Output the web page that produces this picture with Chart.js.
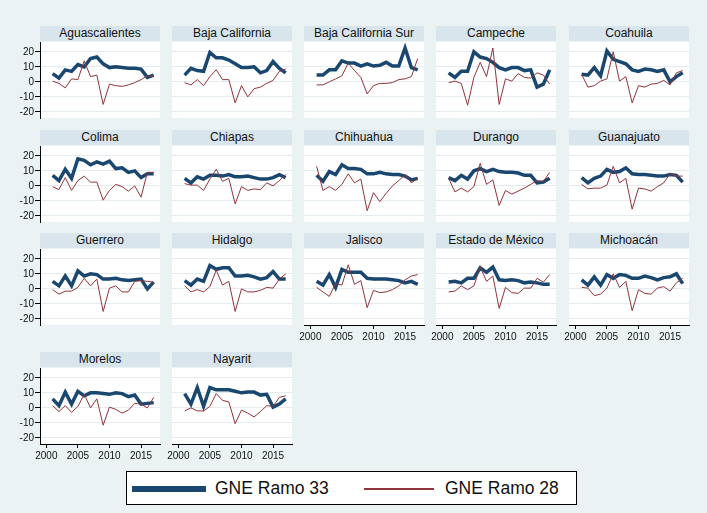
<!doctype html>
<html lang="es">
<head>
<meta charset="utf-8">
<title>GNE Ramo 33 / Ramo 28</title>
<script src="https://cdn.jsdelivr.net/npm/chart.js@4.4.1/dist/chart.umd.min.js"></script>
<style>
  html,body{margin:0;padding:0;background:#eaf2f3}
  #wrap{position:relative;width:707px;height:513px;overflow:hidden;font-family:"Liberation Sans",Arial,sans-serif}
  .hd{position:absolute;width:120px;height:15px;line-height:15px;background:#d8e5ec;color:#111;font-size:12px;text-align:center;white-space:nowrap}
  .cv{position:absolute}
  .legend{position:absolute;left:126px;top:471px;width:449px;height:32px;background:#fff;border:1px solid #000}
  .sw{position:absolute}
  .lt{position:absolute;top:5px;font-size:17.5px;line-height:22px;color:#111}
</style>
</head>
<body>
<div id="wrap">
  <div class="legend">
    <div class="sw" style="left:5px;top:14px;width:74px;height:6px;background:#1a476f"></div>
    <div class="lt" style="left:88px">GNE Ramo 33</div>
    <div class="sw" style="left:237px;top:16px;width:70px;height:1.5px;background:#90353b"></div>
    <div class="lt" style="left:318px">GNE Ramo 28</div>
  </div>
</div>
<script>
const states = ['Aguascalientes','Baja California','Baja California Sur','Campeche','Coahuila',
  'Colima','Chiapas','Chihuahua','Durango','Guanajuato',
  'Guerrero','Hidalgo','Jalisco','Estado de México','Michoacán',
  'Morelos','Nayarit'];
const years = [2001,2002,2003,2004,2005,2006,2007,2008,2009,2010,2011,2012,2013,2014,2015,2016,2017];
const xTicks = [2000,2005,2010,2015];
const yTicks = [-20,-10,0,10,20];

// GNE Ramo 33 (thick navy)
const ramo33 = [
  [5.5,2.5,8,7,11.5,10,15.5,16.5,12,9.5,10,9.5,9,9,8.5,3,4.5],
  [4.5,9,7.5,7,19.5,16,16,14.5,12,9.5,9.5,10,6,7.5,13.5,9,6],
  [4.5,4.5,8,8,14,12.5,12.5,10.5,12,10.5,11,13,10.5,10.5,22.5,9.5,8],
  [6,3,7,7,20,16.5,15.5,13,9.5,8,9.5,9.5,7.5,8,-3.5,-1.5,8],
  [5,4.5,9.5,4,20.5,15,13.5,12,8,7,8.5,8,7,8,0,3.5,6],
  [7,3.5,11,5,18,17,14,16,14.5,16.5,11.5,12,9,10,5.5,8,8],
  [5,2,6,4.5,7,7,6.5,7.5,6,6,6.5,5.5,4.5,4.5,5.5,7.5,5.5],
  [7,3,9.5,7.5,14,11.5,11.5,11,8,8,9,8,7.5,7.5,6.5,4,5],
  [5.5,3.5,7,4.5,10,11.5,9.5,11,9.5,9,9,8.5,7,7,2,2.5,5],
  [5.5,2,5,6.5,11,9,9.5,12,8,7.5,7.5,7,6.5,6.5,7.5,7,2.5],
  [5,2,8.5,2,12,8.5,10,9.5,6.5,6.5,7,6,5.5,6,6.5,0,4.5],
  [5.5,2.5,6.5,5,15.5,13,14,14,8.5,8.5,9,8,6.5,7.5,11.5,6.5,6.5],
  [5,2.5,9.5,1,13,11,11,11,7,6.5,6.5,6.5,6,5.5,4,5,3],
  [4.5,5,4,7,7,14,11,14.5,6,5.5,6,5.5,4,4.5,4,3,3],
  [6,2.5,8,2.5,9.5,7,9.5,9,7,7,8.5,7.5,6,7.5,8,10,3.5],
  [6,1.5,10.5,2.5,11,8,10,10,9.5,9,10,9.5,7.5,8.5,2.5,3,3.5],
  [9.5,2.5,13.5,1,13.5,12,12,12,11,10,10.5,10.5,8.5,9,0.5,2.5,6]
];

// GNE Ramo 28 (thin maroon)
const ramo28 = [
  [0.5,-1,-4,2,1.5,14,3.5,4.5,-15,-1.5,-2.5,-3,-2,-0.5,1.5,4,3.5],
  [-0.5,-2,1.5,-2.5,3.5,8,1.5,1.5,-14,-2.5,-10,-4.5,-3.5,-1,1,7,8.5],
  [-2,-2,0,2,4,12.5,7.5,3,-8,-2.5,-1,-1,-0.5,1.5,2,3.5,15.5],
  [-0.5,0.5,-1,-15.5,3,13,3.5,22.5,-15,2,0.5,5.5,3,2.5,6,4.5,-1.5],
  [5,-3.5,-2.5,0.5,2,20,0.5,3.5,-14,-2.5,-3.5,-1.5,-1,1,-2,6,7.5],
  [-0.5,-2.5,5.5,-3,3.5,6.5,2.5,2.5,-9.5,-3,1,-0.5,-3.5,0,-7.5,9,9],
  [1.5,0.5,0.5,-3,4.5,11,3,5,-12,-0.5,-3,-2,-2.5,2,0,3.5,7.5],
  [13,-3,-0.5,-3,1,8,2,4.5,-16.5,-4.5,-10.5,-5,0,3.5,7.5,2,5],
  [5,-4,-1.5,-4,-0.5,15,1,4,-13,-3,-5.5,-3.5,-1.5,1,3.5,3,9],
  [1,-2,-1.5,-1.5,0.5,13,2,5,-15.5,-1.5,-2,-3.5,-0.5,2,8,6.5,6.5],
  [-0.5,-3.5,-1.5,-1.5,1,7,2,6.5,-15,0.5,2,-2,-2,5,5.5,5,4.5],
  [2,-2,-0.5,-2,1.5,12.5,2.5,5,-15,0,-2,-2,-1,1,0.5,6.5,10],
  [1,-2,-5,3.5,2.5,16,3,5.5,-12.5,-1,-2.5,-2,-0.5,2,6,8.5,9.5],
  [-2,-1.5,2,-0.5,2,14.5,5,8.5,-13,1,-2.5,-3,0.5,0.5,7,4.5,9.5],
  [1,0.5,-4.5,-3.5,0.5,10,1,5,-14.5,-0.5,-3,-3.5,0.5,1.5,-1.5,4,7],
  [1.5,-2.5,1.5,-3,1,9,0,6,-11.5,0.5,-1,-3.5,-1.5,3,2.5,0,7],
  [-2,0,-2,-2,1,9.5,5,4,-10.5,-1.5,-3.5,-6,-2.5,1.5,1,7,8]
];

const colX = [40, 172, 304, 436, 569];
const rowTop = [26, 130, 233, 352];
const HEAD_H = 16, PLOT_H = 76, AXIS_W = 40, AXIS_H = 20, PAD_R = 12, PAD_T = 8;
const NAVY = '#1a476f', MAROON = '#90353b';
const tickFont = { family: '"Liberation Sans", Arial, sans-serif', size: 10 };

// white plot region like Stata's plotregion
const plotBg = {
  id: 'plotBg',
  beforeDraw(chart) {
    const a = chart.chartArea, c = chart.ctx;
    c.save(); c.fillStyle = '#fff';
    c.fillRect(a.left, a.top, a.right - a.left, a.bottom - a.top);
    c.restore();
  }
};

const wrap = document.getElementById('wrap');

states.forEach((name, i) => {
  const row = Math.floor(i / 5), col = i % 5;
  const showY = col === 0;
  const showX = i >= 12; // last panel in each column

  const hd = document.createElement('div');
  hd.className = 'hd';
  hd.style.left = colX[col] + 'px';
  hd.style.top = rowTop[row] + 'px';
  hd.textContent = name;
  wrap.appendChild(hd);

  const cv = document.createElement('canvas');
  cv.className = 'cv';
  const w = AXIS_W + 120 + PAD_R, h = PAD_T + PLOT_H + AXIS_H;
  cv.width = w; cv.height = h;
  cv.style.left = (colX[col] - AXIS_W) + 'px';
  cv.style.top = (rowTop[row] + HEAD_H - PAD_T) + 'px';
  cv.style.width = w + 'px'; cv.style.height = h + 'px';
  wrap.appendChild(cv);

  new Chart(cv.getContext('2d'), {
    type: 'line',
    data: {
      datasets: [
        { label: 'GNE Ramo 28', data: years.map((yr, k) => ({ x: yr, y: ramo28[i][k] })),
          borderColor: MAROON, borderWidth: 1, pointRadius: 0, tension: 0, order: 0 },
        { label: 'GNE Ramo 33', data: years.map((yr, k) => ({ x: yr, y: ramo33[i][k] })),
          borderColor: NAVY, borderWidth: 3.5, pointRadius: 0, tension: 0, order: 1 }
      ]
    },
    options: {
      responsive: false, animation: false, devicePixelRatio: 1,
      layout: { padding: { left: 0, right: PAD_R, top: PAD_T, bottom: 0 } },
      plugins: { legend: { display: false }, tooltip: { enabled: false } },
      scales: {
        x: {
          type: 'linear', min: 1999, max: 2018,
          afterBuildTicks: s => { s.ticks = xTicks.map(v => ({ value: v })); },
          afterFit: s => { s.height = AXIS_H; },
          grid: { display: showX, drawOnChartArea: false, tickLength: 4, color: '#000' },
          border: { display: showX, color: '#000', width: 1 },
          ticks: { display: showX, font: tickFont, color: '#111', maxRotation: 0, padding: 2,
                   autoSkip: false, callback: v => String(v) }
        },
        y: {
          min: -24, max: 26.5,
          afterBuildTicks: s => { s.ticks = yTicks.map(v => ({ value: v })); },
          afterFit: s => { s.width = AXIS_W; },
          grid: { color: '#e4ecef', lineWidth: 1, drawTicks: showY, tickLength: 5, tickColor: '#000' },
          border: { display: showY, color: '#000', width: 1 },
          ticks: { display: showY, font: tickFont, color: '#111', padding: 1, callback: v => String(v) }
        }
      }
    },
    plugins: [plotBg]
  });
});
</script>
</body>
</html>
